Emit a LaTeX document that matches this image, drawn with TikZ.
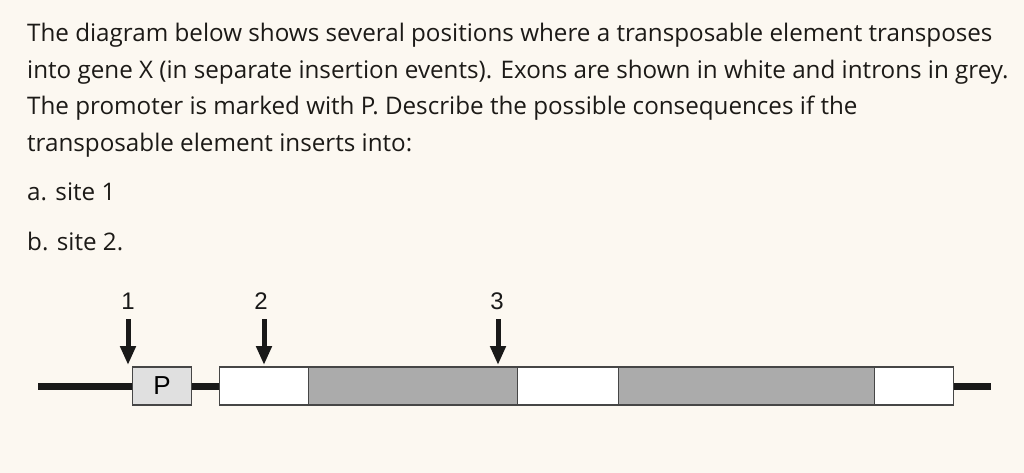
\documentclass[tikz,border=0pt]{standalone}
\usepackage{fontspec}
\setmainfont{Open Sans}
\newfontfamily\arialf{Liberation Sans}
\usetikzlibrary{arrows.meta}
\definecolor{bgcream}{RGB}{252,248,241}
\definecolor{txt}{RGB}{28,26,23}
\definecolor{introngrey}{RGB}{171,171,171}
\definecolor{promgrey}{RGB}{224,224,224}
\definecolor{edge}{RGB}{70,70,70}
\begin{document}
\begin{tikzpicture}[x=1pt,y=-1pt,
  para/.style={anchor=base west,inner sep=0pt,text=txt,font=\fontsize{24.2}{28}\selectfont},
  seg/.style={draw=edge,line width=1.1pt,minimum height=38pt,inner sep=0pt,anchor=west},
  exon/.style={seg,fill=white},
  intron/.style={seg,fill=introngrey},
  dna/.style={line width=7pt,color=black!90},
  numlab/.style={anchor=base,inner sep=0pt,font=\arialf\fontsize{24}{28}\selectfont,text=black!90},
  sitearrow/.style={line width=5pt,color=black!90,shorten <=9.5pt,-{Triangle[width=15pt,length=19pt]}}
]
\useasboundingbox[fill=bgcream] (0,0) rectangle (1024,473);

\node[para] (t1) at (27,42) {The diagram below shows several positions where a transposable element transposes};
\node[para] (t2) at (27,79) {into gene X (in separate insertion events). Exons are shown in white and introns in grey.};
\node[para] (t3) at (27,115) {The promoter is marked with P. Describe the possible consequences if the};
\node[para] (t4) at (27,152) {transposable element inserts into:};
\node[para] (qa) at (27,200) {a. site 1};
\node[para] (qb) at (27,250) {b. site 2.};

% DNA backbone
\coordinate (L) at (38,386.5);
\coordinate (R) at (991,386.5);
\node[exon,minimum width=89pt] (e1) at (219,386) {};
\node[intron,minimum width=209pt] (i1) at (308,386) {};
\node[exon,minimum width=101pt] (e2) at (517,386) {};
\node[intron,minimum width=256pt] (i2) at (618,386) {};
\node[exon,minimum width=79pt] (e3) at (874,386) {};
\coordinate (Pw) at (132,386.5);
\coordinate (Pe) at (191,386.5);
\draw[dna] (L) -- (Pw);
\draw[dna] (Pe) -- (e1.west |- Pe);
\draw[dna] (e3.east |- R) -- (R);
\node[seg,fill=promgrey,minimum width=59pt,font=\arialf\fontsize{26}{28}\selectfont] (P) at (132,386) {\raisebox{-3.5pt}{P}\hspace{18pt}};

% insertion sites
\node[numlab] (n1) at (128,309.5) {1};
\node[numlab] (n2) at (261,309.5) {2};
\node[numlab] (n3) at (497,309.5) {3};
\coordinate (s1) at (128,365);
\coordinate (s2) at (264,365);
\coordinate (s3) at (498,365);
\draw[sitearrow] (n1.south) -- (s1);
\draw[sitearrow] (n2.south -| s2) -- (s2);
\draw[sitearrow] (n3.south -| s3) -- (s3);
\end{tikzpicture}
\end{document}
